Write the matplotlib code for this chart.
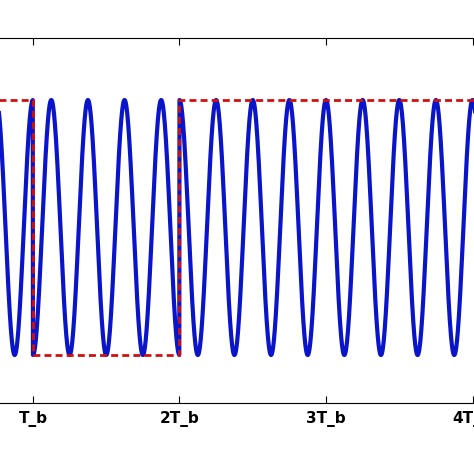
import numpy as np
import matplotlib.pyplot as plt

# bit sequence, one per bit period T_b
bits = [1, 0, 1, 1, 1]
cycles_per_bit = 4
tick_pos = [1, 2, 3, 4]
tick_labels = ['T_b', '2T_b', '3T_b', '4T_b']

t = np.linspace(0, len(bits), 4000, endpoint=False)
idx = t.astype(int)
b = np.array(bits)[idx]
level = 2 * b - 1
carrier = level * np.cos(2 * np.pi * cycles_per_bit * (t - idx))

fig = plt.figure(figsize=(4.74, 4.74), dpi=100)
ax = fig.add_axes([-1, 0.1498, 3, 0.77])
ax.plot(t, carrier, color='#0a14c8', lw=3)
sq_t = np.repeat(np.arange(len(bits) + 1), 2)[1:-1]
sq_y = np.repeat(2 * np.array(bits) - 1, 2)
ax.plot(sq_t, sq_y, color='#d01010', lw=2, ls='--', dashes=(2.5, 1.5))

ax.set_xlim(0.775 - 3.235, 0.775 + 2 * 3.235)
ax.set_ylim(-1.376, 1.486)
ax.set_xticks(tick_pos)
ax.set_xticklabels(tick_labels, fontsize=11, fontweight='bold')
ax.set_yticks([])
ax.tick_params(axis='x', direction='in', top=True, length=5, pad=6)
ax.spines['left'].set_visible(False)
ax.spines['right'].set_visible(False)
fig.savefig('out.png', dpi=100)
